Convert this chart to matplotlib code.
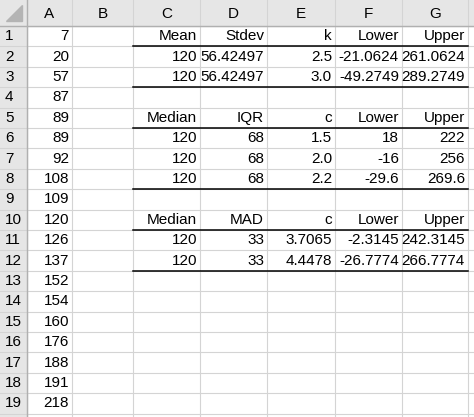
import matplotlib
matplotlib.use("Agg")
import matplotlib.pyplot as plt
from matplotlib.patches import Rectangle, Polygon

col_letters = ["A", "B", "C", "D", "E", "F", "G"]
col_a = [7, 20, 57, 87, 89, 89, 92, 108, 109, 120, 126, 137, 152, 154, 160, 176, 188, 191, 218]
cells = {
    1: ["Mean", "Stdev", "k", "Lower", "Upper"],
    2: ["120", "56.42497", "2.5", "-21.0624", "261.0624"],
    3: ["120", "56.42497", "3.0", "-49.2749", "289.2749"],
    5: ["Median", "IQR", "c", "Lower", "Upper"],
    6: ["120", "68", "1.5", "18", "222"],
    7: ["120", "68", "2.0", "-16", "256"],
    8: ["120", "68", "2.2", "-29.6", "269.6"],
    10: ["Median", "MAD", "c", "Lower", "Upper"],
    11: ["120", "33", "3.7065", "-2.3145", "242.3145"],
    12: ["120", "33", "4.4478", "-26.7774", "266.7774"],
}
border_rows = [1, 3, 5, 8, 10, 12]

W, H = 474, 417
fig = plt.figure(figsize=(W/100, H/100), dpi=100)
ax = fig.add_axes([0, 0, 1, 1])
ax.set_xlim(0, W); ax.set_ylim(H, 0); ax.axis("off")

xs = [0, 27, 72, 133, 200, 267, 335, 402, 468, 474]
hdr = 26
rh = 20.4
font = dict(family=["Liberation Sans", "DejaVu Sans"], fontsize=11, color="#000000")
grid = "#d4d4d4"

def ry(r):
    return hdr + (r - 1) * rh

ax.add_patch(Rectangle((0, 0), W, hdr, color="#e6e6e6", zorder=0))
ax.add_patch(Rectangle((0, 0), xs[1], H, color="#e6e6e6", zorder=0))
ax.add_patch(Polygon([[22, 5], [22, 21], [6, 21]], color="#b4b4b4", zorder=1))

for x in xs[1:-1]:
    ax.plot([x, x], [0, H], color=grid, lw=0.8, zorder=1)
for r in range(1, 21):
    y = ry(r)
    ax.plot([0, W], [y, y], color=grid, lw=0.8, zorder=1)
ax.plot([0, W], [hdr, hdr], color="#b0b0b0", lw=1, zorder=2)
ax.plot([xs[1], xs[1]], [0, H], color="#b0b0b0", lw=1, zorder=2)

for i, c in enumerate(col_letters):
    ax.text((xs[i+1] + xs[i+2]) / 2, hdr / 2 + 1, c, ha="center", va="center", **font)
for r in range(1, 20):
    yc = ry(r) + rh / 2
    ax.text(5, yc, str(r), ha="left", va="center", **font)
    ax.text(xs[2] - 3, yc, str(col_a[r-1]), ha="right", va="center", **font)
    if r in cells:
        for j, v in enumerate(cells[r]):
            ax.text(xs[4 + j] - 3, yc, v, ha="right", va="center", **font)

for r in border_rows:
    y = ry(r + 1)
    ax.plot([xs[3], xs[8]], [y, y], color="#000000", lw=1.1, zorder=3)

fig.savefig("out.png", dpi=100)
